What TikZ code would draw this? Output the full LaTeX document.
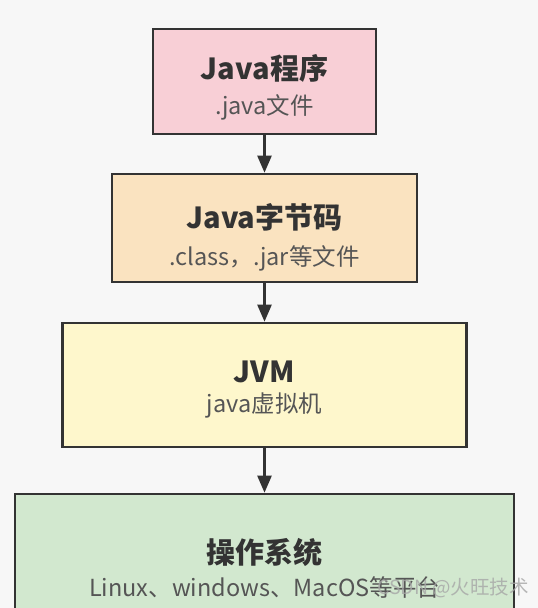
\documentclass[tikz,border=0pt]{standalone}
\usepackage{fontspec}
\setmainfont{Noto Sans CJK SC}
\usetikzlibrary{arrows.meta}
\definecolor{bgc}{HTML}{F7F7F7}
\definecolor{pinkc}{HTML}{F8CFD6}
\definecolor{orangec}{HTML}{FAE3C0}
\definecolor{yellowc}{HTML}{FEF7CC}
\definecolor{greenc}{HTML}{D2E8CF}
\definecolor{edgec}{HTML}{333333}
\definecolor{titlec}{HTML}{333333}
\definecolor{subc}{HTML}{555555}
\tikzset{
  box/.style={draw=edgec, line width=2.6pt, inner sep=0pt},
  titletext/.style={text=titlec, font=\fontsize{29}{33}\selectfont\bfseries, inner sep=0pt, anchor=center},
  subtext/.style={text=subc, font=\fontsize{23.5}{27}\selectfont, inner sep=0pt, anchor=center},
  arr/.style={draw=edgec, line width=2.4pt, -{Triangle[length=17pt,width=14pt]}},
  wmark/.style={text=gray!70, font=\fontsize{19.5}{22}\selectfont, inner sep=0pt, opacity=0.8}
}
\begin{document}
\begin{tikzpicture}[x=1pt,y=1pt]
\useasboundingbox (0,0) rectangle (538,608);
\clip (0,0) rectangle (538,608);
\fill[bgc] (0,0) rectangle (538,608);
% boxes
\node[box, fill=pinkc, minimum width=223pt, minimum height=105pt] (p) at (264.5,526.5) {};
\node[box, fill=orangec, minimum width=305pt, minimum height=108pt] (o) at (264.5,380) {};
\node[box, fill=yellowc, minimum width=404pt, minimum height=124pt] (y) at (264.5,223) {};
\node[box, fill=greenc, minimum width=499pt, minimum height=140pt] (g) at (264.5,44) {};
% texts
\node[titletext] (pt) at (264.5,540) {Java程序};
\node[subtext] (ps) at (264.5,501) {.java文件};
\node[titletext] (ot) at (264.5,391) {Java字节码};
\node[subtext] (os) at (264.5,350) {.class，.jar等文件};
\node[titletext] (yt) at (264.5,236) {JVM};
\node[subtext] (ys) at (264.5,203) {java虚拟机};
\node[titletext] (gt) at (264.5,56) {操作系统};
\node[subtext] (gs) at (264.5,20) {Linux、windows、MacOS等平台};
% arrows
\draw[arr] (p.south) -- (o.north);
\draw[arr] (o.south) -- (y.north);
\draw[arr] (y.south) -- (g.north);
% watermark
\node[wmark] (wm) at (453,20) {CSDN @火旺技术};
\end{tikzpicture}
\end{document}
